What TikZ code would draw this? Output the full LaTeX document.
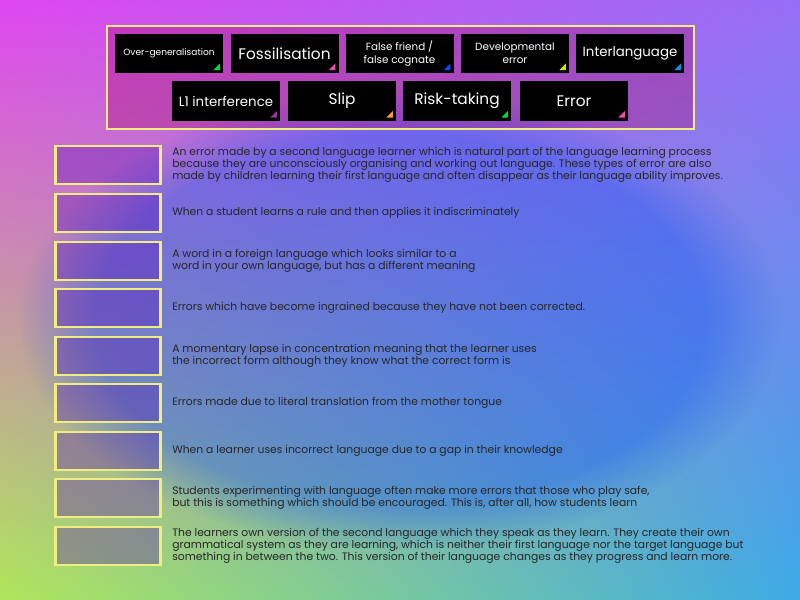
\documentclass[tikz,border=0pt]{standalone}
\usepackage{fontspec}
\setmainfont{Poppins}
\usetikzlibrary{shadings,fadings}
\begin{document}
\begin{tikzpicture}[x=0.75pt,y=-0.75pt,
 tile/.style={fill=black,draw=none,text=white,align=center,inner sep=0pt},
 ans/.style={draw=ylw,line width=1.8pt,fill=violet!60!blue,fill opacity=0.3,minimum width=79pt,minimum height=28.5pt,inner sep=0pt},
 desc/.style={anchor=west,align=left,text=black!85,font=\fontsize{8.1}{9.2}\selectfont,inner sep=0pt}]
\definecolor{ylw}{HTML}{F0EE80}
\definecolor{cul}{RGB}{222,70,240}
\definecolor{cur}{RGB}{150,110,245}
\definecolor{cll}{RGB}{175,230,90}
\definecolor{clr}{RGB}{60,170,230}
\useasboundingbox (0,0) rectangle (800,600);
\shade[upper left=cul,upper right=cur,lower left=cll,lower right=clr] (0,0) rectangle (800,600);
\fill[blue!70!cyan,opacity=0.35,path fading=circle with fuzzy edge 20 percent] (400,320) ellipse (380 and 230);
\node[draw=ylw,line width=1.8pt,fill=purple!60!violet,fill opacity=0.3,minimum width=440pt,minimum height=77pt] (bank) at (400.5,77.5) {};
\def\tl#1#2#3#4#5#6{\node[tile,minimum width=81pt,minimum height=29.5pt,font=#4] (#1) at (#2,#3) {#5};
 \fill[#6] ([shift={(-2.5pt,2.5pt)}]#1.south east) -- ++(0,5pt) -- ++(-5pt,-5pt) -- cycle;}
\tl{t1}{169}{53.5}{\fontsize{6.8}{8}\selectfont}{Over-generalisation}{green!70!teal}
\tl{t2}{284.5}{53.5}{\fontsize{11.5}{13}\selectfont}{Fossilisation}{magenta!70}
\tl{t3}{399.5}{53.5}{\fontsize{7.8}{9.5}\selectfont}{False friend /\\false cognate}{blue!70!cyan}
\tl{t4}{515}{53.5}{\fontsize{7.8}{9.5}\selectfont}{Developmental\\error}{yellow!80!green}
\tl{t5}{630}{53.5}{\fontsize{10}{12}\selectfont}{Interlanguage}{cyan!80!blue}
\tl{t6}{226}{101}{\fontsize{10}{12}\selectfont}{L1 interference}{violet!80}
\tl{t7}{342}{101}{\fontsize{11.5}{13}\selectfont}{Slip}{orange!80}
\tl{t8}{457}{101}{\fontsize{11.5}{13}\selectfont}{Risk-taking}{green!70!teal}
\tl{t9}{574}{101}{\fontsize{11.5}{13}\selectfont}{Error}{magenta!70}
\foreach \i/\y/\t in {
 1/165/{An error made by a second language learner which is natural part of the language learning process\\because they are unconsciously organising and working out language. These types of error are also\\made by children learning their first language and often disappear as their language ability improves.},
 2/213/{When a student learns a rule and then applies it indiscriminately},
 3/261/{A word in a foreign language which looks similar to a\\word in your own language, but has a different meaning},
 4/308/{Errors which have become ingrained because they have not been corrected.},
 5/356/{A momentary lapse in concentration meaning that the learner uses\\the incorrect form although they know what the correct form is},
 6/403/{Errors made due to literal translation from the mother tongue},
 7/451/{When a learner uses incorrect language due to a gap in their knowledge},
 8/498/{Students experimenting with language often make more errors that those who play safe,\\but this is something which should be encouraged. This is, after all, how students learn},
 9/546/{The learners own version of the second language which they speak as they learn. They create their own\\grammatical system as they are learning, which is neither their first language nor the target language but\\something in between the two. This version of their language changes as they progress and learn more.}}{
 \node[ans] (a\i) at (108,\y) {};
 \node[desc] (d\i) at (172,\y) {\t};
}
\end{tikzpicture}
\end{document}
